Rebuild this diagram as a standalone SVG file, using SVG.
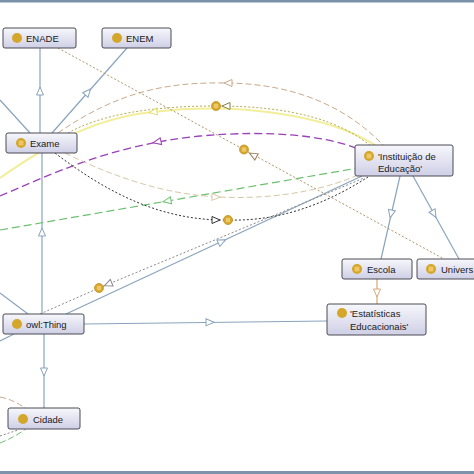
<svg xmlns="http://www.w3.org/2000/svg" xmlns:xlink="http://www.w3.org/1999/xlink" width="474" height="474" viewBox="0 0 474 474">
<defs>
<linearGradient id="ng" x1="0" y1="0" x2="0" y2="1">
<stop offset="0" stop-color="#f7f7fc"/>
<stop offset="1" stop-color="#cfcfe6"/>
</linearGradient>
<path id="tri" d="M4,0 L-4,-3.5 L-4,3.5 Z"/>
</defs>
<style>
.box{fill:url(#ng);stroke:#4a4a55;stroke-width:1}
.dot{fill:#d4a62a}
.sq{fill:#ecc867}
.lbl{font-family:"Liberation Sans",Arial,sans-serif;font-size:9.5px;fill:#1a1a1a}
.isa{fill:none;stroke:#8aa4bd;stroke-width:1.2}
.ah{fill:#ffffff;stroke-width:1}
.ind{fill:#d4a62a;stroke:#c39322;stroke-width:0.8}
</style>
<rect x="0" y="0" width="474" height="474" fill="#ffffff"/>
<rect x="0" y="0" width="474" height="2.5" fill="#7890a8"/>
<rect x="0" y="471" width="474" height="3" fill="#7d93ab"/>

<g id="connectors">
<!-- subclass lines -->
<path class="isa" d="M40,48 L40,133"/>
<path class="isa" d="M52,133 L127,48"/>
<path class="isa" d="M0,100 L30,133"/>
<path class="isa" d="M42,153 L42,314"/>
<path class="isa" d="M44,334 L44,408"/>
<path class="isa" d="M84,324 L327,321"/>
<path class="isa" d="M66,314 L362,176"/>
<path class="isa" d="M400,176 L381,259"/>
<path class="isa" d="M413,176 L459,259"/>
<path class="isa" d="M0,293 L28,314"/>
<path class="isa" d="M0,341 L14,334"/>
<path fill="none" stroke="#d8a878" stroke-width="1.2" d="M377,279 L377,304"/>

<!-- property curves -->
<path fill="none" stroke="#c9a98a" stroke-width="1" stroke-dasharray="6,3" d="M58,133 C120,90 170,82 227,83 C300,84 350,110 385,147"/>
<path fill="none" stroke="#f2ee9a" stroke-width="2" d="M0,178 C40,150 90,118 153,112 C240,102 330,115 378,147"/>
<path fill="none" stroke="#b8aa50" stroke-width="1" stroke-dasharray="2,2" d="M68,133 C100,115 150,106 216,106 C290,106 340,120 372,147"/>
<path fill="none" stroke="#9a40b8" stroke-width="1.3" stroke-dasharray="8,4" d="M0,196 C50,175 110,145 200,136 C270,130 320,135 356,148"/>
<path fill="none" stroke="#6cc070" stroke-width="1.2" stroke-dasharray="8,4" d="M0,230 L358,168"/>
<path fill="none" stroke="#333333" stroke-width="1" stroke-dasharray="2,2" d="M55,153 C110,195 160,218 218,220 L228,220 C290,222 340,195 368,177"/>
<path fill="none" stroke="#d6c8a8" stroke-width="1" stroke-dasharray="6,3" d="M65,153 C120,180 170,195 220,197 C280,200 330,188 360,174"/>
<path fill="none" stroke="#b0956c" stroke-width="1" stroke-dasharray="2,2" d="M58,48 L444,259"/>
<path fill="none" stroke="#8a8a90" stroke-width="1" stroke-dasharray="2,2" d="M40,314 L99,288 L364,178"/>
<path fill="none" stroke="#c9a98a" stroke-width="1" stroke-dasharray="6,3" d="M0,397 Q15,400 26,409"/>
<path fill="none" stroke="#6cc070" stroke-width="1" stroke-dasharray="6,3" d="M0,443 Q15,437 27,428"/>
<path fill="none" stroke="#8a8a90" stroke-width="1" stroke-dasharray="2,2" d="M0,436 L18,430"/>

<!-- arrowheads -->
<use xlink:href="#tri" class="ah" stroke="#8aa4bd" transform="translate(40,91) rotate(-90)"/>
<use xlink:href="#tri" class="ah" stroke="#8aa4bd" transform="translate(88,92) rotate(-48.6)"/>
<use xlink:href="#tri" class="ah" stroke="#8aa4bd" transform="translate(42,232) rotate(-90)"/>
<use xlink:href="#tri" class="ah" stroke="#8aa4bd" transform="translate(44,372) rotate(90)"/>
<use xlink:href="#tri" class="ah" stroke="#8aa4bd" transform="translate(210,322.3) rotate(-0.7)"/>
<use xlink:href="#tri" class="ah" stroke="#8aa4bd" transform="translate(222,241.5) rotate(-25)"/>
<use xlink:href="#tri" class="ah" stroke="#8aa4bd" transform="translate(391,214) rotate(103)"/>
<use xlink:href="#tri" class="ah" stroke="#8aa4bd" transform="translate(434,214) rotate(60.7)"/>
<use xlink:href="#tri" class="ah" stroke="#d8a878" transform="translate(377,293) rotate(90)"/>
<use xlink:href="#tri" class="ah" stroke="#c9a98a" transform="translate(228,83) rotate(180)"/>
<use xlink:href="#tri" class="ah" stroke="#e4dc70" transform="translate(153,112) rotate(172)"/>
<use xlink:href="#tri" class="ah" stroke="#8a8040" transform="translate(226,106) rotate(180)"/>
<use xlink:href="#tri" class="ah" stroke="#9a40b8" transform="translate(157,142) rotate(168)"/>
<use xlink:href="#tri" class="ah" stroke="#6cc070" transform="translate(167,201) rotate(170)"/>
<use xlink:href="#tri" class="ah" stroke="#333333" transform="translate(216,220) rotate(0)"/>
<use xlink:href="#tri" class="ah" stroke="#d6c8a8" transform="translate(216,197) rotate(2)"/>
<use xlink:href="#tri" class="ah" stroke="#9a8060" transform="translate(253,155) rotate(208.7)"/>
<use xlink:href="#tri" class="ah" stroke="#8a8a90" transform="translate(108,284.3) rotate(157)"/>

<!-- individuals on edges -->
<circle class="ind" cx="216" cy="106" r="4.5"/>
<rect class="sq" x="213.8" y="103.8" width="4.4" height="4.4"/>
<circle class="ind" cx="244" cy="149.5" r="4.5"/>
<rect class="sq" x="241.8" y="147.3" width="4.4" height="4.4"/>
<circle class="ind" cx="228" cy="220" r="4.5"/>
<rect class="sq" x="225.8" y="217.8" width="4.4" height="4.4"/>
<circle class="ind" cx="99" cy="288" r="4.5"/>
<rect class="sq" x="96.8" y="285.8" width="4.4" height="4.4"/>
</g>

<g id="node-enade">
<rect class="box" x="3" y="28" width="73" height="20" rx="2"/>
<circle class="dot" cx="17" cy="38" r="5"/>
<text class="lbl" x="26" y="41.5">ENADE</text>
</g>
<g id="node-enem">
<rect class="box" x="102" y="28" width="69" height="20" rx="2"/>
<circle class="dot" cx="117" cy="38" r="5"/>
<text class="lbl" x="126" y="41.5">ENEM</text>
</g>
<g id="node-exame">
<rect class="box" x="6" y="133" width="71" height="20" rx="2"/>
<circle class="dot" cx="21" cy="143" r="5"/>
<rect class="sq" x="18.6" y="140.6" width="4.8" height="4.8"/>
<text class="lbl" x="30" y="146.5">Exame</text>
</g>
<g id="node-instituicao">
<rect class="box" x="355" y="145" width="98" height="31" rx="2"/>
<circle class="dot" cx="369" cy="156" r="5"/>
<rect class="sq" x="366.6" y="153.6" width="4.8" height="4.8"/>
<text class="lbl" x="378" y="159.5">'Instituição de</text>
<text class="lbl" x="378" y="171.5">Educação'</text>
</g>
<g id="node-escola">
<rect class="box" x="342" y="259" width="70" height="20" rx="2"/>
<circle class="dot" cx="357" cy="269" r="5"/>
<rect class="sq" x="354.6" y="266.6" width="4.8" height="4.8"/>
<text class="lbl" x="367" y="272.5">Escola</text>
</g>
<g id="node-universidade">
<rect class="box" x="417" y="259" width="70" height="20" rx="2"/>
<circle class="dot" cx="431" cy="269" r="5"/>
<rect class="sq" x="428.6" y="266.6" width="4.8" height="4.8"/>
<text class="lbl" x="441" y="272.5">Univers</text>
</g>
<g id="node-estatisticas">
<rect class="box" x="327" y="304" width="99" height="31" rx="2"/>
<circle class="dot" cx="342" cy="313" r="5"/>
<text class="lbl" x="350" y="317">'Estatísticas</text>
<text class="lbl" x="350" y="330">Educacionais'</text>
</g>
<g id="node-thing">
<rect class="box" x="3" y="314" width="81" height="20" rx="2"/>
<circle class="dot" cx="17" cy="324" r="5"/>
<text class="lbl" x="26" y="327.5">owl:Thing</text>
</g>
<g id="node-cidade">
<rect class="box" x="8" y="408" width="72" height="21" rx="2"/>
<circle class="dot" cx="23" cy="419" r="5"/>
<text class="lbl" x="33" y="422.5">Cidade</text>
</g>
</svg>
